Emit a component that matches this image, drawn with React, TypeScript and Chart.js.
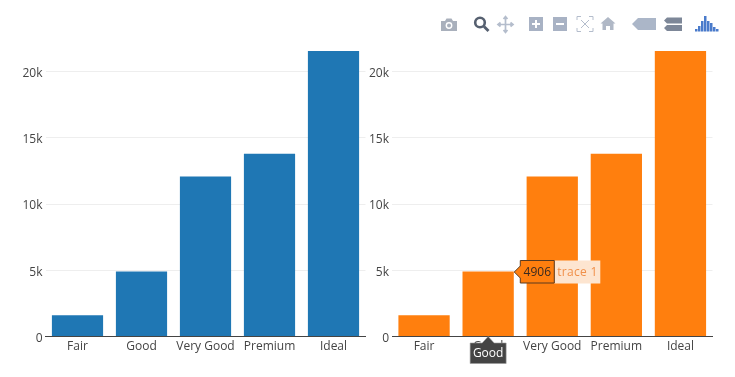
import React, { useEffect, useRef } from "react";
import { Chart, registerables } from "chart.js";

Chart.register(...registerables);

const categories = ["Fair", "Good", "Very Good", "Premium", "Ideal"];
const counts = [1610, 4906, 12082, 13791, 21551];
const yTicks = [0, 5000, 10000, 15000, 20000];
const yMax = 21551;
const hoverIndex = 1;
const hoverName = "trace 1";

const FONT = '"Open Sans", sans-serif';
const INK = "#444444";

const hoverPlugin = {
  id: "hoverLabels",
  afterDraw(chart: any) {
    const opts = chart.options.plugins.hoverLabels;
    if (!opts || !opts.show) return;
    const ctx = chart.ctx;
    const x = chart.scales.x.getPixelForValue(hoverIndex);
    const y = chart.scales.y.getPixelForValue(counts[hoverIndex]);
    const bar = chart.getDatasetMeta(0).data[hoverIndex];
    const tipX = x + bar.width / 2 + 0.5;
    const tipY = y + 0.5;
    ctx.save();
    ctx.font = `12px ${FONT}`;
    ctx.textBaseline = "middle";

    // trace name box
    ctx.fillStyle = "#fde5d0";
    ctx.fillRect(tipX + 40, tipY - 11.5, 46, 23);
    ctx.fillStyle = "#f0904a";
    ctx.textAlign = "left";
    (ctx as any).letterSpacing = "0.3px";
    ctx.fillText(hoverName, tipX + 43, tipY + 0.5);
    (ctx as any).letterSpacing = "0px";

    // value box
    ctx.beginPath();
    ctx.moveTo(tipX, tipY);
    ctx.lineTo(tipX + 6, tipY - 6);
    ctx.lineTo(tipX + 6, tipY - 11.5);
    ctx.lineTo(tipX + 40, tipY - 11.5);
    ctx.lineTo(tipX + 40, tipY + 11);
    ctx.lineTo(tipX + 6, tipY + 11);
    ctx.lineTo(tipX + 6, tipY + 6);
    ctx.closePath();
    ctx.fillStyle = "#ff7f0e";
    ctx.fill();
    ctx.strokeStyle = "#5a3a1e";
    ctx.lineWidth = 1;
    ctx.stroke();
    ctx.fillStyle = "#3a2a20";
    ctx.textAlign = "center";
    ctx.fillText(String(counts[hoverIndex]), tipX + 23, tipY + 0.5);

    // category box under the axis
    const axisY = chart.chartArea.bottom;
    const cx = x;
    ctx.beginPath();
    ctx.moveTo(cx, axisY);
    ctx.lineTo(cx + 6, axisY + 6.5);
    ctx.lineTo(cx + 18, axisY + 6.5);
    ctx.lineTo(cx + 18, axisY + 27);
    ctx.lineTo(cx - 18, axisY + 27);
    ctx.lineTo(cx - 18, axisY + 6.5);
    ctx.lineTo(cx - 6, axisY + 6.5);
    ctx.closePath();
    ctx.fillStyle = INK;
    ctx.fill();
    ctx.strokeStyle = "#9a9a9a";
    ctx.lineWidth = 0.6;
    ctx.stroke();
    ctx.fillStyle = "#ffffff";
    ctx.fillText(categories[hoverIndex], cx, axisY + 17);
    ctx.restore();
  },
};

function makeChart(
  canvas: HTMLCanvasElement,
  left: number,
  right: number,
  color: string,
  hover: boolean
) {
  const tickFont = { family: FONT, size: 12 };
  return new Chart(canvas, {
    type: "bar",
    plugins: [hoverPlugin],
    data: {
      labels: categories,
      datasets: [
        {
          data: counts,
          backgroundColor: color,
          borderWidth: 0,
          barPercentage: 0.8,
          categoryPercentage: 1,
        },
      ],
    },
    options: {
      responsive: false,
      animation: false,
      events: [],
      layout: {
        padding: { left: 0, right: 735 - right, top: 51, bottom: 0 },
      },
      plugins: {
        legend: { display: false },
        title: { display: false },
        tooltip: { enabled: false },
        hoverLabels: { show: hover },
      } as any,
      scales: {
        x: {
          offset: true,
          afterFit(s: any) {
            s.height = 377 - 336.5;
          },
          grid: { display: false, drawTicks: false },
          border: { display: true, color: INK, width: 1 },
          ticks: {
            color: INK,
            font: tickFont,
            padding: 3,
            maxRotation: 0,
            autoSkip: false,
          },
        },
        y: {
          min: 0,
          max: yMax,
          afterFit(s: any) {
            s.width = left;
          },
          afterBuildTicks(s: any) {
            s.ticks = yTicks.map((value) => ({ value }));
          },
          grid: { color: "#eeeeee", lineWidth: 1, drawTicks: false },
          border: { display: false },
          ticks: {
            color: INK,
            font: tickFont,
            padding: 3,
            labelOffset: 2,
            callback: (v: any) => (v === 0 ? "0" : `${v / 1000}k`),
          },
        },
      },
    } as any,
  });
}

function Modebar() {
  const light = "#b4bdcc";
  const mid = "#a8b2c4";
  return (
    <svg
      width={735}
      height={45}
      style={{ position: "absolute", left: 0, top: 0, pointerEvents: "none" }}
    >
      {/* camera */}
      <g fill="#a9b0bc">
        <path d="M441 21h4l1.5-2.5h5L453 21h4v10h-16z" />
        <circle cx={449} cy={25.5} r={3.4} fill="#ffffff" />
        <circle cx={449} cy={25.5} r={2} />
      </g>
      {/* zoom */}
      <circle cx={480} cy={22.5} r={4.8} fill="none" stroke="#566070" strokeWidth={2.6} />
      <path d="M484 26.5l4.5 4.5" stroke="#566070" strokeWidth={2.8} />
      {/* pan */}
      <path
        d="M505.5 17v15M498 24.5h15M503.5 19l2-2.5 2 2.5M503.5 30l2 2.5 2-2.5M500.5 22.5l-2.5 2 2.5 2M510.5 22.5l2.5 2-2.5 2"
        fill="none"
        stroke={light}
        strokeWidth={1.7}
      />
      {/* zoom in */}
      <rect x={529} y={17} width={14} height={14} fill={mid} />
      <path d="M536 20v8M532 24h8" stroke="#ffffff" strokeWidth={2} />
      {/* zoom out */}
      <rect x={553} y={17} width={14} height={14} fill={mid} />
      <path d="M556 24h8" stroke="#ffffff" strokeWidth={2} />
      {/* autoscale */}
      <path
        d="M577 20v-3.5h4M589 16.5h4v3.5M593 28v3.5h-4M581 31.5h-4v-3.5M581 20l8 8M589 20l-8 8"
        fill="none"
        stroke={light}
        strokeWidth={1}
      />
      {/* home */}
      <path d="M608 17l7.5 6.5h-2V30h-3.5v-4h-4v4H602.5v-6.5h-2z" fill="#b0b8c6" />
      {/* closest */}
      <path d="M632 24l6-6h18v12h-18z" fill="#abb6c8" />
      {/* compare */}
      <path d="M667 17.5h15v6h-15l-3-3zM667 25h15v6h-15l-3-3z" fill="#7d8798" />
      {/* logo */}
      <g fill="#4a7bcb">
        <rect x={695} y={29} width={2.5} height={2.5} />
        <rect x={698} y={26} width={2.5} height={5.5} />
        <rect x={701} y={21} width={2.5} height={10.5} />
        <rect x={704} y={16} width={2.5} height={15.5} />
        <rect x={707} y={21} width={2.5} height={10.5} />
        <rect x={710} y={23} width={2.5} height={8.5} />
        <rect x={713} y={27} width={2.5} height={4.5} />
        <rect x={716} y={29} width={2.5} height={2.5} />
      </g>
    </svg>
  );
}

export default function App() {
  const leftRef = useRef<HTMLCanvasElement>(null);
  const rightRef = useRef<HTMLCanvasElement>(null);

  useEffect(() => {
    const a = makeChart(leftRef.current!, 45.5, 365.5, "#1f77b4", false);
    const b = makeChart(rightRef.current!, 392, 712.5, "#ff7f0e", true);
    return () => {
      a.destroy();
      b.destroy();
    };
  }, []);

  const style: React.CSSProperties = { position: "absolute", left: 0, top: 0 };
  return (
    <div
      style={{
        position: "fixed",
        left: 0,
        top: 0,
        width: 735,
        height: 377,
        background: "#ffffff",
        overflow: "hidden",
      }}
    >
      <canvas ref={leftRef} width={735} height={377} style={style} />
      <canvas ref={rightRef} width={735} height={377} style={style} />
      <Modebar />
    </div>
  );
}
